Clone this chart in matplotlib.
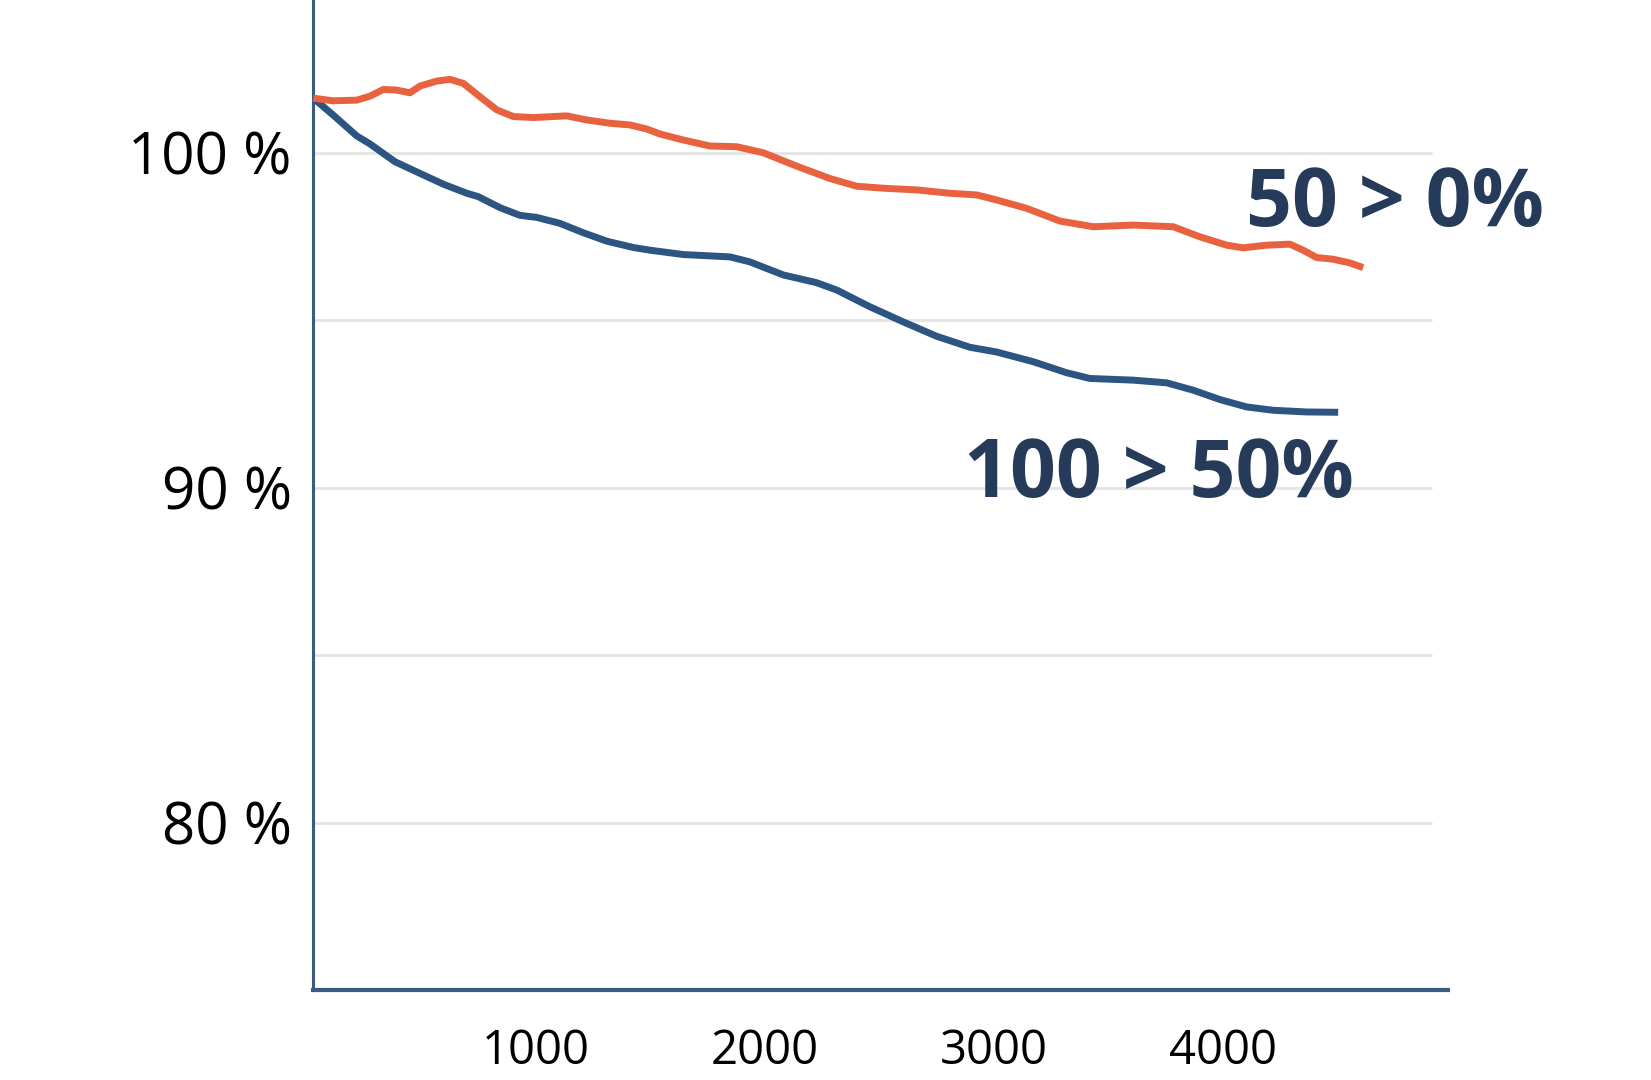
import matplotlib
matplotlib.use("Agg")
import matplotlib.pyplot as plt

plt.rcParams['font.family'] = ['Open Sans', 'DejaVu Sans']

# Kurve 100 > 50 %
x_blau = [30, 116, 220, 278, 387, 481, 598, 700, 750, 845, 932, 1005, 1107, 1209,
          1311, 1427, 1500, 1645, 1849, 1936, 2082, 2227, 2315, 2460, 2605, 2751,
          2897, 3013, 3173, 3319, 3420, 3609, 3755, 3871, 3988, 4104, 4220, 4366, 4504]
y_blau = [101.63, 101.13, 100.50, 100.26, 99.73, 99.43, 99.06, 98.79, 98.69, 98.36,
          98.13, 98.07, 97.89, 97.61, 97.36, 97.17, 97.09, 96.96, 96.89, 96.74, 96.35,
          96.12, 95.90, 95.40, 94.95, 94.52, 94.19, 94.05, 93.76, 93.43, 93.26, 93.21,
          93.13, 92.91, 92.63, 92.41, 92.31, 92.26, 92.25]

# Kurve 50 > 0 %
x_orange = [30, 116, 220, 278, 336, 394, 452, 496, 569, 627, 685, 758, 831, 903, 990,
            1136, 1223, 1325, 1412, 1485, 1543, 1645, 1762, 1878, 1994, 2140, 2285,
            2402, 2518, 2664, 2809, 2926, 3013, 3144, 3289, 3435, 3609, 3784, 3900,
            4017, 4089, 4192, 4293, 4351, 4410, 4482, 4555, 4613]
y_orange = [101.63, 101.55, 101.57, 101.69, 101.89, 101.87, 101.79, 101.99, 102.14,
            102.19, 102.07, 101.67, 101.28, 101.08, 101.05, 101.10, 100.98, 100.88,
            100.83, 100.71, 100.56, 100.38, 100.20, 100.18, 100.00, 99.60, 99.23,
            99.00, 98.94, 98.89, 98.79, 98.74, 98.59, 98.34, 97.96, 97.79, 97.84,
            97.79, 97.49, 97.24, 97.16, 97.24, 97.27, 97.09, 96.87, 96.82, 96.71, 96.57]

y_ticks = [80, 90, 100]
y_labels = ['80 %', '90 %', '100 %']
x_ticks = [1000, 2000, 3000, 4000]
x_labels = ['1000', '2000', '3000', '4000']
gitter = [80, 85, 90, 95, 100]

blau = '#2d5581'
orange = '#e8623f'
navy = '#253b59'
achse = '#3b5b82'

fig = plt.figure(figsize=(16.51, 10.80), dpi=100)
ax = fig.add_axes([0.1894, 0.0833, 0.6876, 0.9167])

ax.hlines(gitter, 0, 4913, color='#e6e6e6', linewidth=2.2, zorder=1)

ax.plot(x_blau, y_blau, color=blau, linewidth=5, solid_joinstyle='round',
        solid_capstyle='butt', zorder=3)
ax.plot(x_orange, y_orange, color=orange, linewidth=5, solid_joinstyle='round',
        solid_capstyle='butt', zorder=3)

ax.text(4100, 97.8, '50 > 0%', fontsize=58, fontweight='bold', color=navy, va='baseline')
ax.text(2872, 89.71, '100 > 50%', fontsize=58, fontweight='bold', color=navy, va='baseline')

ax.set_xlim(27.5, 4983)
ax.set_ylim(75, 104.56)

ax.set_yticks(y_ticks)
ax.set_yticklabels(y_labels, fontsize=42)
ax.set_xticks(x_ticks)
ax.set_xticklabels(x_labels, fontsize=34)
ax.tick_params(axis='y', length=0, pad=15)
ax.tick_params(axis='x', length=0, pad=27)

for s in ['top', 'right']:
    ax.spines[s].set_visible(False)
ax.spines['left'].set_color(achse)
ax.spines['left'].set_linewidth(2.2)
ax.spines['bottom'].set_color(achse)
ax.spines['bottom'].set_linewidth(3)

fig.savefig('out.png', dpi=100)
